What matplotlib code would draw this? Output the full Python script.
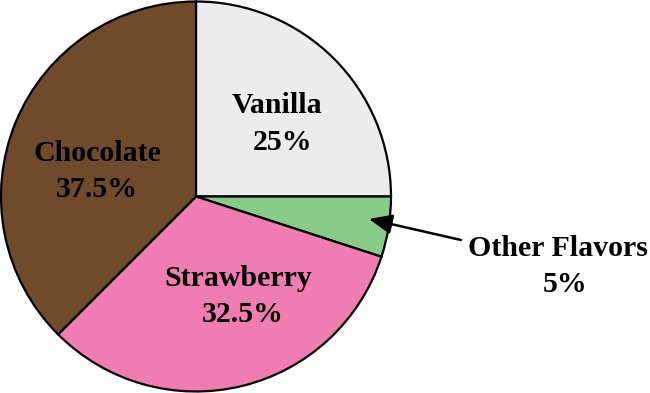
import matplotlib
matplotlib.use("Agg")
import matplotlib.pyplot as plt

flavors = ["Vanilla", "Other Flavors", "Strawberry", "Chocolate"]
shares = [25, 5, 32.5, 37.5]
pct_labels = ["25%", "5%", "32.5%", "37.5%"]
colors = ["#ececec", "#88cc88", "#f07db2", "#6f4a2b"]

W, H = 650, 393
fig = plt.figure(figsize=(W / 100, H / 100), dpi=100)
ax = fig.add_axes([0, 0, 1, 1])
ax.pie(shares, colors=colors, startangle=90, counterclock=False,
       center=(196, H - 196.5), radius=195,
       wedgeprops=dict(edgecolor="black", linewidth=1.6))
ax.set_xlim(0, W)
ax.set_ylim(0, H)
ax.set_aspect("auto")
ax.axis("off")

font = dict(family="Liberation Serif", fontweight="bold", fontsize=21.5, color="black")

# label positions (pixel coords from top) : name baseline, pct baseline
pos = {
    "Vanilla": (277, 113, 282, 150),
    "Chocolate": (97, 161, 97, 197),
    "Strawberry": (238, 286, 243, 322),
    "Other Flavors": (558, 256, 565, 292),
}
for name, pct in zip(flavors, pct_labels):
    x1, y1, x2, y2 = pos[name]
    ax.text(x1, H - y1, name, ha="center", va="baseline", **font)
    ax.text(x2, H - y2, pct, ha="center", va="baseline", **font)

ax.annotate("", xy=(369, H - 219), xytext=(461, H - 240),
            arrowprops=dict(arrowstyle="-|>,head_length=0.7,head_width=0.3",
                            mutation_scale=20, lw=1.8,
                            color="black", shrinkA=0, shrinkB=0))

fig.savefig("out.png", dpi=100)
